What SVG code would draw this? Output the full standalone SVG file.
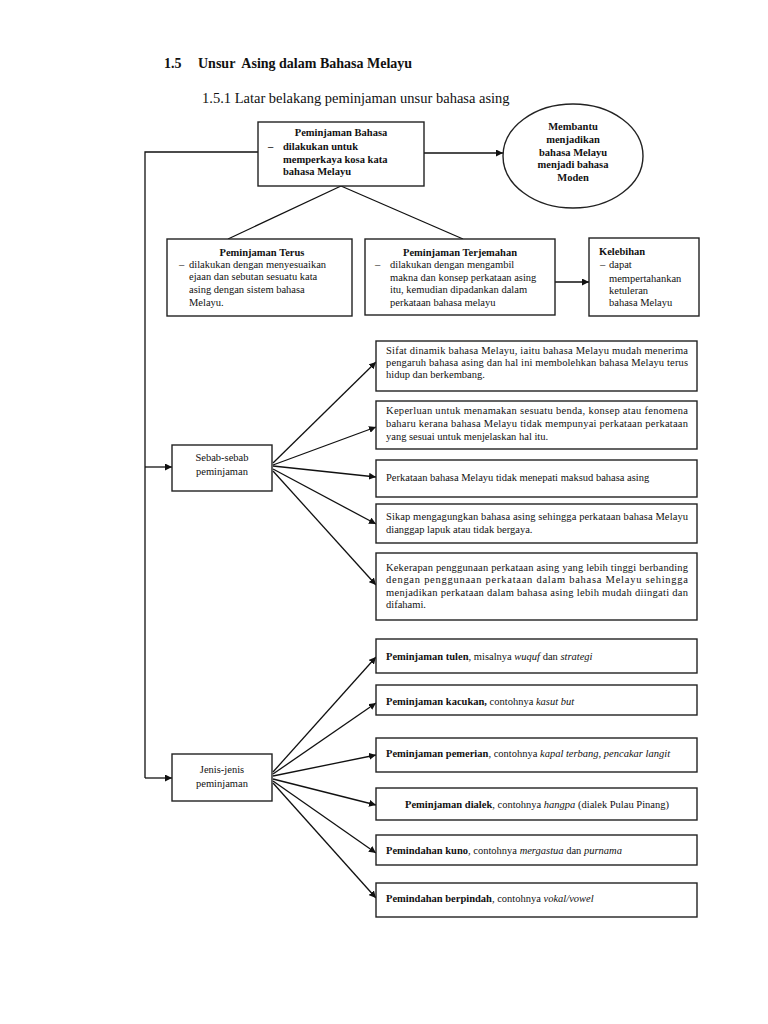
<svg xmlns="http://www.w3.org/2000/svg" width="768" height="1024" viewBox="0 0 768 1024">
<style>
text{font-family:"Liberation Serif","Times New Roman",serif;fill:#111;}
.t{font-size:10.5px;}
.b{font-weight:bold;}
.c{text-anchor:middle;}
.i{font-style:italic;}
.box{fill:#fff;stroke:#222;stroke-width:1.4;}
.ln{fill:none;stroke:#111;stroke-width:1.3;}
.ar{fill:none;stroke:#111;stroke-width:1.3;marker-end:url(#ah);}
</style>
<defs>
<marker id="ah" viewBox="0 0 10 10" refX="10" refY="5" markerWidth="7" markerHeight="7" markerUnits="userSpaceOnUse" orient="auto">
<path d="M0,0 L10,5 L0,10 z" fill="#111"/>
</marker>
</defs>
<rect width="768" height="1024" fill="#fff"/>
<g id="title">
<text x="164" y="68" font-size="14" class="b">1.5</text>
<text x="198" y="68" font-size="14" class="b" xml:space="preserve">Unsur  Asing dalam Bahasa Melayu</text>
<text x="202" y="103" font-size="14.5">1.5.1  Latar belakang peminjaman unsur bahasa asing</text>
</g>
<g id="connectors">
<polyline class="ln" points="258,152 145,152 145,778"/>
<line class="ar" x1="145" y1="467" x2="172" y2="467"/>
<line class="ar" x1="145" y1="778" x2="172" y2="778"/>
<line class="ar" x1="424" y1="153" x2="503" y2="153"/>
<line class="ln" x1="341" y1="186" x2="228" y2="239"/>
<line class="ln" x1="341" y1="186" x2="463" y2="239"/>
<line class="ar" x1="555" y1="282" x2="589" y2="282"/>
<line class="ar" x1="273" y1="463" x2="376" y2="362"/>
<line class="ar" x1="273" y1="465" x2="376" y2="427"/>
<line class="ar" x1="273" y1="466" x2="376" y2="477"/>
<line class="ar" x1="273" y1="469" x2="376" y2="524"/>
<line class="ar" x1="273" y1="471" x2="376" y2="585"/>
<line class="ar" x1="273" y1="772" x2="376" y2="657"/>
<line class="ar" x1="273" y1="774" x2="376" y2="703"/>
<line class="ar" x1="273" y1="776" x2="376" y2="755"/>
<line class="ar" x1="273" y1="779" x2="376" y2="805"/>
<line class="ar" x1="273" y1="781" x2="376" y2="853"/>
<line class="ar" x1="273" y1="783" x2="376" y2="898"/>
</g>
<g id="peminjaman-bahasa">
<rect class="box" x="258" y="122" width="166" height="64"/>
<text class="t b c" x="341" y="136">Peminjaman Bahasa</text>
<text class="t b" x="268" y="150">–</text>
<text class="t b" x="283" y="150">dilakukan untuk</text>
<text class="t b" x="283" y="163">memperkaya kosa kata</text>
<text class="t b" x="283" y="175">bahasa Melayu</text>
</g>
<g id="membantu">
<ellipse cx="573" cy="156" rx="70" ry="52" fill="#fff" stroke="#222" stroke-width="1.4"/>
<text class="t b c" x="573" y="130">Membantu</text>
<text class="t b c" x="573" y="143">menjadikan</text>
<text class="t b c" x="573" y="156">bahasa Melayu</text>
<text class="t b c" x="573" y="168">menjadi bahasa</text>
<text class="t b c" x="573" y="181">Moden</text>
</g>
<g id="peminjaman-terus">
<rect class="box" x="167" y="239" width="185" height="77"/>
<text class="t b c" x="262" y="256">Peminjaman Terus</text>
<text class="t" x="179" y="268">–</text>
<text class="t" x="189" y="268">dilakukan dengan menyesuaikan</text>
<text class="t" x="189" y="280">ejaan dan sebutan sesuatu kata</text>
<text class="t" x="189" y="293">asing dengan sistem bahasa</text>
<text class="t" x="189" y="306">Melayu.</text>
</g>
<g id="peminjaman-terjemahan">
<rect class="box" x="365" y="239" width="190" height="76"/>
<text class="t b c" x="460" y="256">Peminjaman Terjemahan</text>
<text class="t" x="375" y="268">–</text>
<text class="t" x="390" y="268">dilakukan dengan mengambil</text>
<text class="t" x="390" y="281">makna dan konsep perkataan asing</text>
<text class="t" x="390" y="293">itu, kemudian dipadankan dalam</text>
<text class="t" x="390" y="306">perkataan bahasa melayu</text>
</g>
<g id="kelebihan">
<rect class="box" x="589" y="238" width="110" height="78"/>
<text class="t b" x="599" y="255">Kelebihan</text>
<text class="t" x="600" y="268">–</text>
<text class="t" x="609" y="268">dapat</text>
<text class="t" x="609" y="282">mempertahankan</text>
<text class="t" x="609" y="294">ketuleran</text>
<text class="t" x="609" y="306">bahasa Melayu</text>
</g>
<g id="sebab">
<rect class="box" x="172" y="445" width="100" height="46"/>
<text class="t c" x="222" y="461">Sebab-sebab</text>
<text class="t c" x="222" y="475">peminjaman</text>
</g>
<g id="sebab-1">
<rect class="box" x="376" y="341" width="321" height="50"/>
<text class="t" x="386" y="354" textLength="302" lengthAdjust="spacing">Sifat dinamik bahasa Melayu, iaitu bahasa Melayu mudah menerima</text>
<text class="t" x="386" y="366" textLength="302" lengthAdjust="spacing">pengaruh bahasa asing dan hal ini membolehkan bahasa Melayu terus</text>
<text class="t" x="386" y="378">hidup dan berkembang.</text>
</g>
<g id="sebab-2">
<rect class="box" x="376" y="401" width="321" height="48"/>
<text class="t" x="386" y="414" textLength="302" lengthAdjust="spacing">Keperluan untuk menamakan sesuatu benda, konsep atau fenomena</text>
<text class="t" x="386" y="427" textLength="302" lengthAdjust="spacing">baharu kerana bahasa Melayu tidak mempunyai perkataan perkataan</text>
<text class="t" x="386" y="440">yang sesuai untuk menjelaskan hal itu.</text>
</g>
<g id="sebab-3">
<rect class="box" x="376" y="460" width="321" height="37"/>
<text class="t" x="386" y="481">Perkataan bahasa Melayu tidak menepati maksud bahasa asing</text>
</g>
<g id="sebab-4">
<rect class="box" x="376" y="504" width="321" height="39"/>
<text class="t" x="386" y="520" textLength="302" lengthAdjust="spacing">Sikap mengagungkan bahasa asing sehingga perkataan bahasa Melayu</text>
<text class="t" x="386" y="533">dianggap lapuk atau tidak bergaya.</text>
</g>
<g id="sebab-5">
<rect class="box" x="376" y="553" width="321" height="67"/>
<text class="t" x="386" y="571" textLength="302" lengthAdjust="spacing">Kekerapan penggunaan perkataan asing yang lebih tinggi berbanding</text>
<text class="t" x="386" y="583" textLength="302" lengthAdjust="spacing">dengan penggunaan perkataan dalam bahasa Melayu sehingga</text>
<text class="t" x="386" y="596" textLength="302" lengthAdjust="spacing">menjadikan perkataan dalam bahasa asing lebih mudah diingati dan</text>
<text class="t" x="386" y="608">difahami.</text>
</g>
<g id="jenis">
<rect class="box" x="172" y="754" width="100" height="47"/>
<text class="t c" x="222" y="773">Jenis-jenis</text>
<text class="t c" x="222" y="787">peminjaman</text>
</g>
<g id="jenis-1">
<rect class="box" x="376" y="639" width="321" height="34"/>
<text class="t" x="386" y="660"><tspan class="b">Peminjaman tulen</tspan>, misalnya <tspan class="i">wuquf</tspan> dan <tspan class="i">strategi</tspan></text>
</g>
<g id="jenis-2">
<rect class="box" x="376" y="685" width="321" height="30"/>
<text class="t" x="386" y="705"><tspan class="b">Peminjaman kacukan,</tspan> contohnya <tspan class="i">kasut but</tspan></text>
</g>
<g id="jenis-3">
<rect class="box" x="376" y="738" width="321" height="34"/>
<text class="t" x="386" y="757"><tspan class="b">Peminjaman pemerian</tspan>, contohnya <tspan class="i">kapal terbang, pencakar langit</tspan></text>
</g>
<g id="jenis-4">
<rect class="box" x="376" y="788" width="321" height="32"/>
<text class="t c" x="537" y="808"><tspan class="b">Peminjaman dialek</tspan>, contohnya <tspan class="i">hangpa</tspan> (dialek Pulau Pinang)</text>
</g>
<g id="jenis-5">
<rect class="box" x="376" y="835" width="321" height="30"/>
<text class="t" x="386" y="854"><tspan class="b">Pemindahan kuno</tspan>, contohnya <tspan class="i">mergastua</tspan> dan <tspan class="i">purnama</tspan></text>
</g>
<g id="jenis-6">
<rect class="box" x="376" y="883" width="321" height="34"/>
<text class="t" x="386" y="902"><tspan class="b">Pemindahan berpindah</tspan>, contohnya <tspan class="i">vokal/vowel</tspan></text>
</g>
</svg>
